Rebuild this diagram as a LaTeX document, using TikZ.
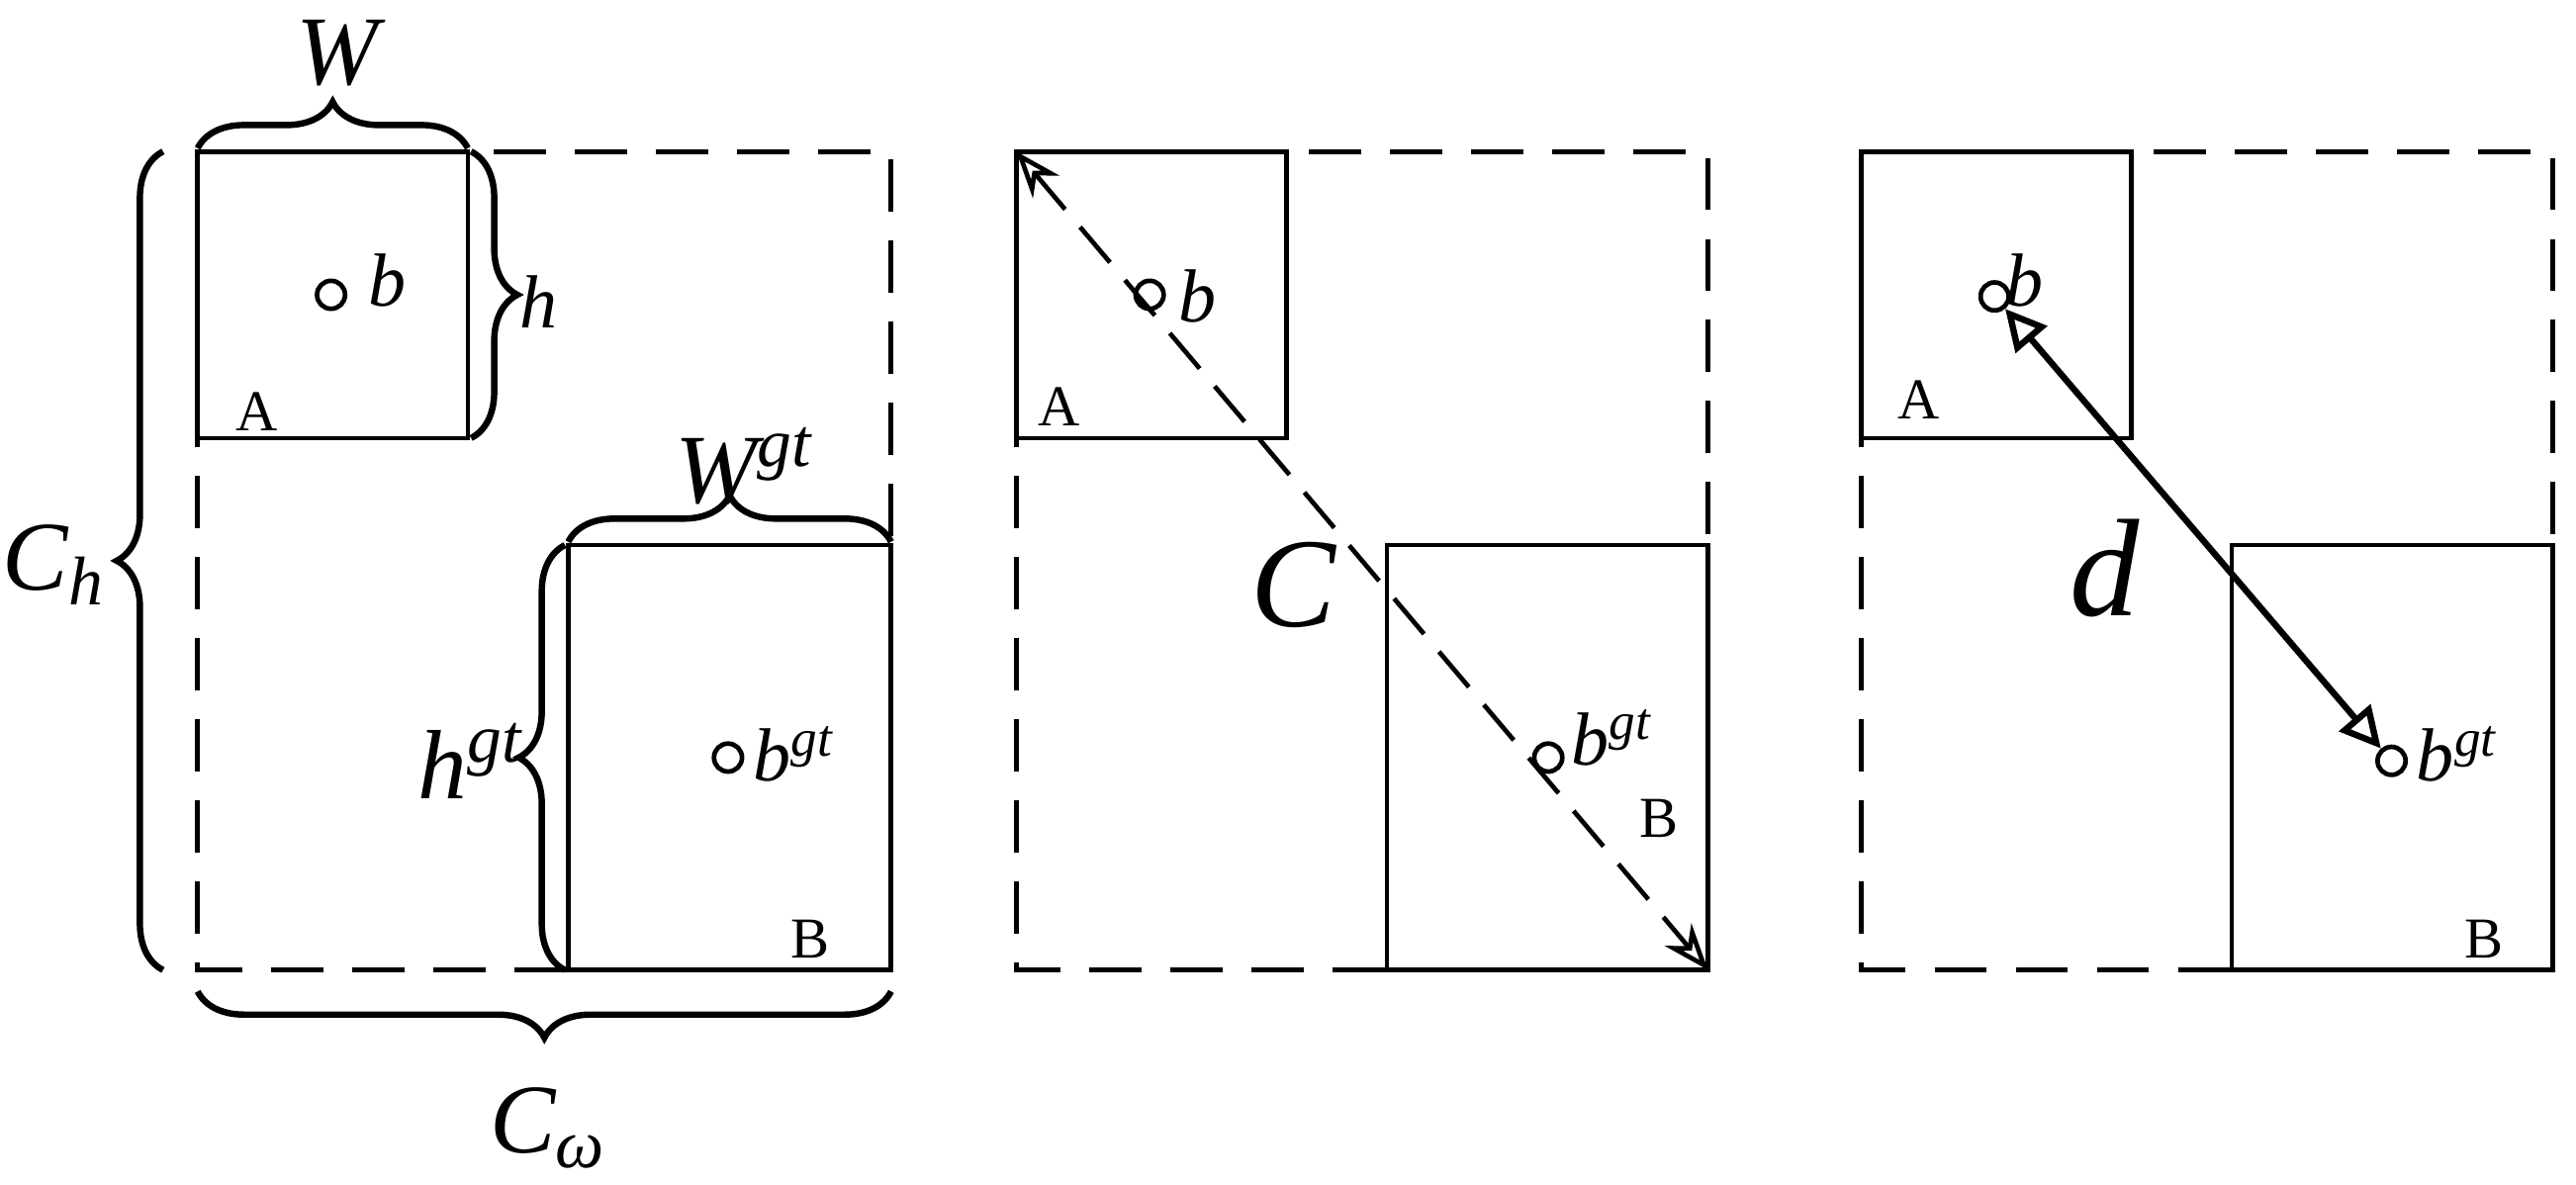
\documentclass[tikz,border=0pt]{standalone}
\usepackage{fontspec}
\setmainfont{Liberation Serif}
\usetikzlibrary{decorations.pathreplacing,arrows.meta}
\newcommand{\sps}[1]{\textsuperscript{\itshape #1}}
\newcommand{\sbs}[1]{\textsubscript{\itshape #1}}
\begin{document}
\begin{tikzpicture}[x=0.01cm,y=-0.01cm,line width=0.8pt,
  dsh/.style={dashed,dash pattern=on 9pt off 5pt},
  br/.style={decorate,decoration={brace,amplitude=8pt},line width=1.1pt},
  pt/.style={circle,draw,line width=0.8pt,inner sep=0pt,minimum size=0.17cm},
  lab/.style={font=\fontsize{10}{12}\selectfont},
  mid/.style={font=\fontsize{13}{15}\selectfont\itshape},
  big/.style={font=\fontsize{17}{19}\selectfont\itshape}]
\useasboundingbox (0,0) rectangle (1564,719);
% panel 1
\draw[dsh] (120,92) rectangle (541,589);
\draw (120,92) rectangle (284,266);
\draw (345,331) rectangle (541,589);
\node[pt] (b1) at (201,179) {};
\node[mid] (lb1) at (235,170) {b};
\node[pt] (g1) at (442,460) {};
\node[mid] (lg1) at (482,458) {b\sps{gt}};
\node[lab] (A1) at (156,250) {A};
\node[lab] (B1) at (492,570) {B};
\draw[br] (120,90) -- (284,90);
\node[big] (W) at (205,32) {W};
\draw[br] (286,92) -- (286,266);
\node[mid] (h) at (327,183) {h};
\draw[br] (99,589) -- (99,92);
\node[big] (Ch) at (33,343) {C\sbs{h}};
\draw[br] (345,329) -- (541,329);
\node[big] (Wg) at (452,283) {W\sps{gt}};
\draw[br] (343,589) -- (343,331);
\node[big] (hg) at (286,462) {h\sps{gt}};
\draw[br] (541,602) -- (120,602);
\node[big] (Cw) at (333,685) {C\sbs{ω}};
% panel 2
\draw[dsh] (617,92) rectangle (1037,589);
\draw (617,92) rectangle (781,266);
\draw (842,331) rectangle (1037,589);
\node[pt] (b2) at (698,179) {};
\node[mid] (lb2) at (727,180) {b};
\node[pt] (g2) at (940,460) {};
\node[mid] (lg2) at (979,448) {b\sps{gt}};
\node[lab] (A2) at (643,247) {A};
\node[lab] (B2) at (1007,497) {B};
\coordinate (c1) at (617,92);
\coordinate (c2) at (1037,589);
\draw[dashed,dash pattern=on 8pt off 4pt,{Stealth[open,length=8pt,width=6pt]}-{Stealth[open,length=8pt,width=6pt]}] (c1) -- (c2);
\node[font=\fontsize{22}{24}\selectfont\itshape] (C) at (785,355) {C};
% panel 3
\draw[dsh] (1130,92) rectangle (1550,589);
\draw (1130,92) rectangle (1294,266);
\draw (1355,331) rectangle (1550,589);
\node[pt] (b3) at (1211,180) {};
\node[mid] (lb3) at (1229,170) {b};
\node[pt] (g3) at (1452,462) {};
\node[mid] (lg3) at (1492,458) {b\sps{gt}};
\node[lab] (A3) at (1165,243) {A};
\node[lab] (B3) at (1508,570) {B};
\draw[line width=1.1pt,{Triangle[open,length=7pt,width=7pt]}-{Triangle[open,length=7pt,width=7pt]}] (b3) -- (g3);
\node[font=\fontsize{24}{26}\selectfont\itshape] (d) at (1278,345) {d};
\end{tikzpicture}
\end{document}
